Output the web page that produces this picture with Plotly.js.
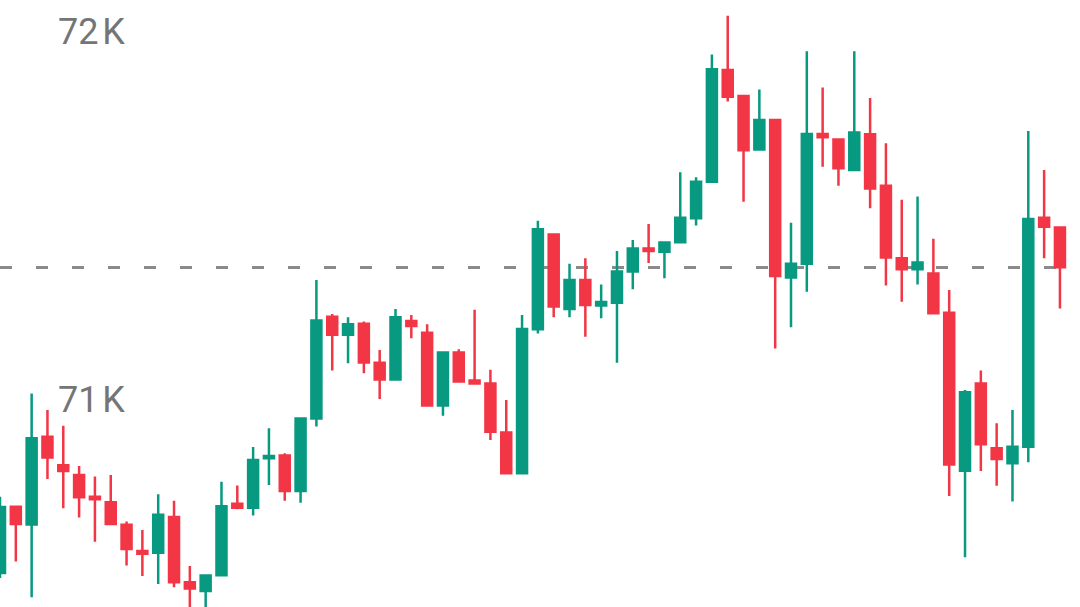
<!DOCTYPE html>
<html>
<head>
<meta charset="utf-8">
<script src="https://cdn.plot.ly/plotly-3.0.1.min.js"></script>
<style>
  html, body { margin: 0; padding: 0; background: #ffffff; }
  #chart { width: 1080px; height: 607px; }
</style>
</head>
<body>
<div id="chart"></div>
<script>
// Candle index (time order)
const idx = Array.from({length: 68}, (_, i) => i);

const openV  = [70530,70710,70662,70900,70823,70796,70737,70722,70661,70590,
                70585,70682,70505,70481,70524,70718,70707,70842,70849,70753,
                70950,71226,71177,71207,71101,71056,71215,71183,70985,71129,
                71053,71045,70912,70801,71192,71450,71247,71326,71257,71264,
                71349,71412,71403,71429,71494,71593,71897,71826,71681,71761,
                71333,71370,71723,71708,71625,71722,71582,71385,71355,71344,
                71237,70808,71045,70869,70828,70873,71495,71469];
const highV  = [70737,70712,71018,70973,70930,70821,70792,70796,70670,70647,
                70744,70726,70549,70525,70778,70768,70872,70923,70855,70950,
                71326,71234,71225,71213,71136,71247,71231,71206,71129,71138,
                71245,71082,71000,71231,71487,71450,71370,71385,71314,71405,
                71435,71478,71428,71619,71605,71939,72044,71826,71844,71761,
                71482,71948,71849,71708,71948,71821,71698,71544,71553,71438,
                71299,71027,71080,70937,70973,71731,71625,71469];
const lowV   = [70516,70561,70464,70785,70706,70681,70615,70660,70550,70522,
                70500,70491,70430,70420,70524,70703,70686,70769,70726,70721,
                70928,71080,71100,71073,71003,71056,71168,70985,70957,71050,
                71045,70891,70801,70801,71181,71225,71225,71172,71222,71101,
                71301,71372,71331,71429,71474,71593,71811,71539,71681,71140,
                71198,71294,71634,71582,71625,71521,71311,71267,71314,71236,
                70739,70573,70807,70767,70724,70831,71385,71249];
const closeV = [70709,70663,70896,70844,70807,70736,70730,70663,70595,70582,
                70688,70505,70488,70523,70711,70707,70837,70848,70753,70950,
                71216,71177,71206,71102,71056,71225,71201,70985,71129,71050,
                71045,70914,70801,71193,71464,71254,71326,71258,71266,71349,
                71412,71405,71428,71495,71593,71899,71824,71679,71761,71337,
                71370,71723,71714,71630,71727,71575,71387,71355,71374,71236,
                70825,71021,70880,70840,70873,71492,71471,71361];

// Reference (previous close) level and price labels
const refLevel = 71360;
const labelPrices = [72000, 71000];
const labelTexts = ["72\u200aK", "71\u200aK"];

const UP = "#089981", DOWN = "#F23645";

const trace = {
  type: "candlestick",
  x: idx, open: openV, high: highV, low: lowV, close: closeV,
  increasing: { line: { color: UP, width: 2.5 }, fillcolor: UP },
  decreasing: { line: { color: DOWN, width: 2.5 }, fillcolor: DOWN },
  whiskerwidth: 0,
  hoverinfo: "skip",
  showlegend: false
};

const annotations = labelPrices.map((p, i) => ({
  xref: "paper", yref: "y", x: 56 / 1080, y: p,
  xanchor: "left", yanchor: "middle",
  text: labelTexts[i], showarrow: false,
  font: { family: "Roboto, sans-serif", size: 36, color: "#757575" }
}));

const layout = {
  width: 1080, height: 607,
  margin: { l: 0, r: 0, t: 0, b: 0, pad: 0 },
  paper_bgcolor: "#ffffff", plot_bgcolor: "#ffffff",
  showlegend: false,
  boxgap: 0.368, boxgroupgap: 0,
  xaxis: { range: [0, 1080 / 15.82], visible: false, showgrid: false, zeroline: false,
           rangeslider: { visible: false }, fixedrange: true },
  yaxis: { range: [70437.5, 72087], visible: false, showgrid: false, zeroline: false, fixedrange: true },
  shapes: [{
    type: "line", xref: "paper", yref: "y", x0: 0, x1: 1, y0: refLevel, y1: refLevel,
    line: { color: "#8a8a8a", width: 3, dash: "12px,24px" }, layer: "below"
  }],
  annotations: annotations
};

Plotly.newPlot("chart", [trace], layout, { displayModeBar: false, staticPlot: true });
</script>
</body>
</html>
